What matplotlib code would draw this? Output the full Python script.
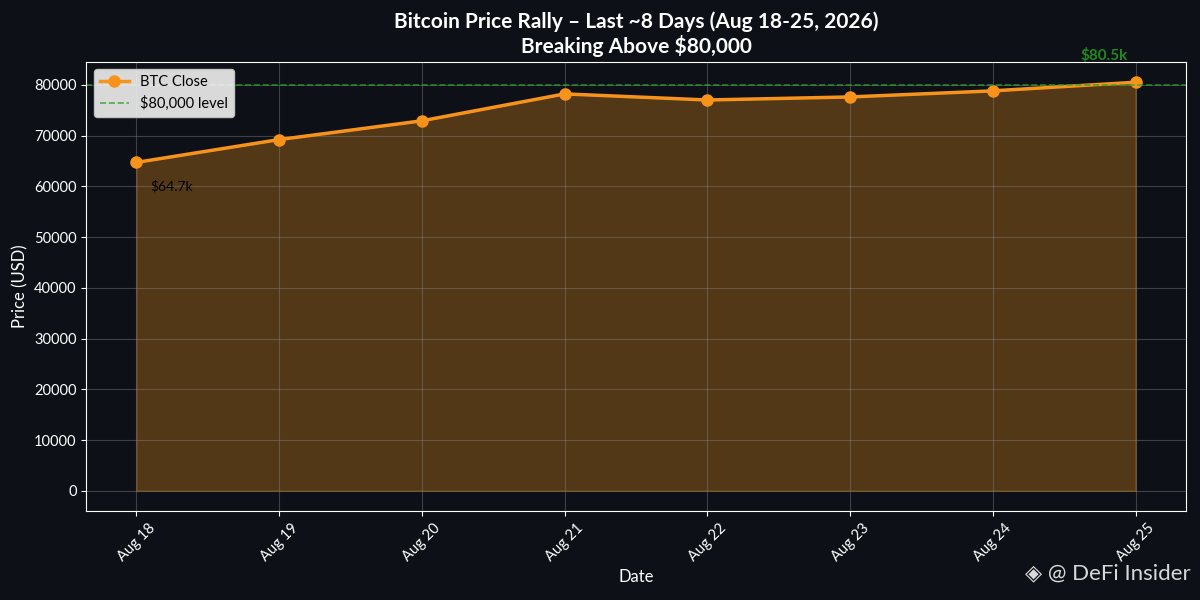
import matplotlib
matplotlib.use('Agg')
import matplotlib.pyplot as plt

plt.rcParams['font.family'] = ['Lato', 'DejaVu Sans']

dates = ['Aug 18', 'Aug 19', 'Aug 20', 'Aug 21', 'Aug 22', 'Aug 23', 'Aug 24', 'Aug 25']
close = [64700, 69200, 72900, 78200, 77000, 77600, 78800, 80500]
level = 80000

bg = '#0d1117'
orange = '#f7931a'

fig, ax = plt.subplots(figsize=(12, 6), dpi=100)
fig.patch.set_facecolor(bg)
ax.set_facecolor(bg)

x = list(range(len(dates)))
ax.fill_between(x, close, color=orange, alpha=0.3)
ax.plot(x, close, color=orange, lw=2.5, marker='o', markersize=8, label='BTC Close')
ax.axhline(level, color='#2ca02c', ls='--', lw=1.2, alpha=0.8, label='\\$80,000 level')

ax.annotate('\\$64.7k', (x[0], close[0]), xytext=(10, -17), textcoords='offset points',
            ha='left', va='center', color='black', fontsize=10)
ax.annotate('\\$80.5k', (x[-1], close[-1]), xytext=(-40, 19), textcoords='offset points',
            ha='left', va='center', color='#1f8a1f', fontsize=11, fontweight='bold')

ax.set_xticks(x)
ax.set_xticklabels(dates, rotation=45)
ax.grid(True, color='#888888', alpha=0.4, lw=0.8)
ax.tick_params(colors='white', labelsize=10.5)
for s in ax.spines.values():
    s.set_color('white')

ax.set_xlabel('Date', color='white', fontsize=12)
ax.set_ylabel('Price (USD)', color='white', fontsize=12)
ax.set_title('Bitcoin Price Rally \u2013 Last ~8 Days (Aug 18-25, 2026)\nBreaking Above \\$80,000',
             color='white', fontsize=15, fontweight='bold')

leg = ax.legend(loc='upper left', fontsize=10.5, facecolor='#f0f0f0', framealpha=0.9)
for t in leg.get_texts():
    t.set_color('black')

fig.text(0.992, 0.028, '\u25c8 @ DeFi Insider', ha='right', va='bottom', color='#d8d8d8',
         fontsize=16, family=['Lato', 'DejaVu Sans'])

fig.subplots_adjust(left=0.072, right=0.988, top=0.897, bottom=0.148)
fig.savefig('out.png', facecolor=bg)
